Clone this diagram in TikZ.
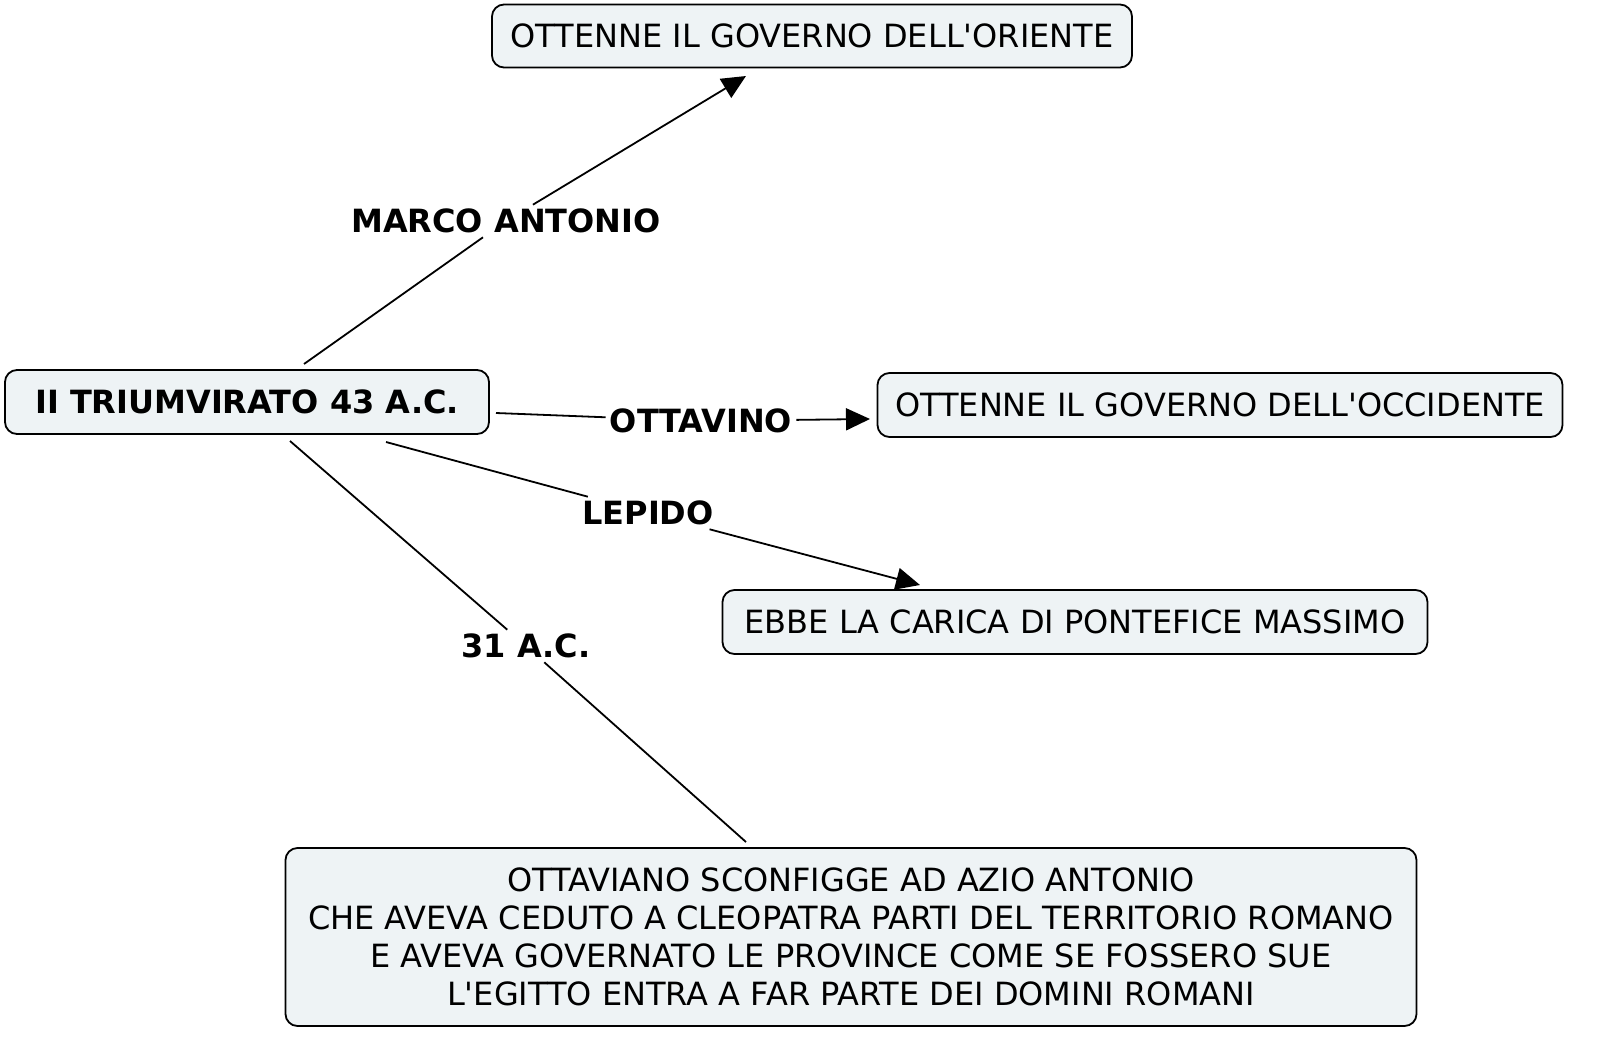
\documentclass[tikz,border=0pt]{standalone}
\usepackage{fontspec}
\setmainfont{DejaVu Sans}
\usetikzlibrary{arrows.meta}
\definecolor{boxfill}{HTML}{EEF3F5}
\newcommand{\apo}{\textquotesingle}
\begin{document}
\begin{tikzpicture}[x=1pt,y=-1pt,
  box/.style={draw,rounded corners=12pt,fill=boxfill,line width=1.8pt,font=\fontsize{32}{38}\selectfont,inner xsep=10pt,align=center},
  lab/.style={font=\fontsize{32}{30}\selectfont\bfseries,inner sep=4pt},
  con/.style={line width=1.8pt},
  arr/.style={con,-{Triangle[length=24pt,width=22pt]}}]
\useasboundingbox (0,0) rectangle (1600,1052);
\node[box,minimum width=640,minimum height=63] (top) at (812,36) {OTTENNE IL GOVERNO DELL\apo ORIENTE};
\node[box,minimum width=484,minimum height=64,font=\fontsize{32}{38}\selectfont\bfseries] (c) at (247,402) {II TRIUMVIRATO 43 A.C.};
\node[box,minimum width=685,minimum height=64] (occ) at (1220,405) {OTTENNE IL GOVERNO DELL\apo OCCIDENTE};
\node[box,minimum width=705,minimum height=64] (pon) at (1075,622) {EBBE LA CARICA DI PONTEFICE MASSIMO};
\node[box,minimum width=1131,minimum height=178] (bot) at (851,937) {OTTAVIANO SCONFIGGE AD AZIO ANTONIO\\CHE AVEVA CEDUTO A CLEOPATRA PARTI DEL TERRITORIO ROMANO\\E AVEVA GOVERNATO LE PROVINCE COME SE FOSSERO SUE\\L\apo EGITTO ENTRA A FAR PARTE DEI DOMINI ROMANI};
\node[lab] (ma) at (506,221) {MARCO ANTONIO};
\node[lab] (ot) at (701,421) {OTTAVINO};
\node[lab] (le) at (648,513) {LEPIDO};
\node[lab] (ac) at (526,646) {31 A.C.};
\coordinate (s1) at (304,364);
\coordinate (t1) at (746,76);
\coordinate (s2) at (496,413);
\coordinate (t2) at (870,419);
\coordinate (s3) at (386,442);
\coordinate (t3) at (920,585);
\coordinate (s4) at (290,441);
\coordinate (t4) at (746,842);
\draw[con] (s1) -- (ma);
\draw[arr] (ma) -- (t1);
\draw[con] (s2) -- (ot);
\draw[arr] (ot) -- (t2);
\draw[con] (s3) -- (le);
\draw[arr] (le) -- (t3);
\draw[con] (s4) -- (ac);
\draw[con] (ac) -- (t4);
\end{tikzpicture}
\end{document}
